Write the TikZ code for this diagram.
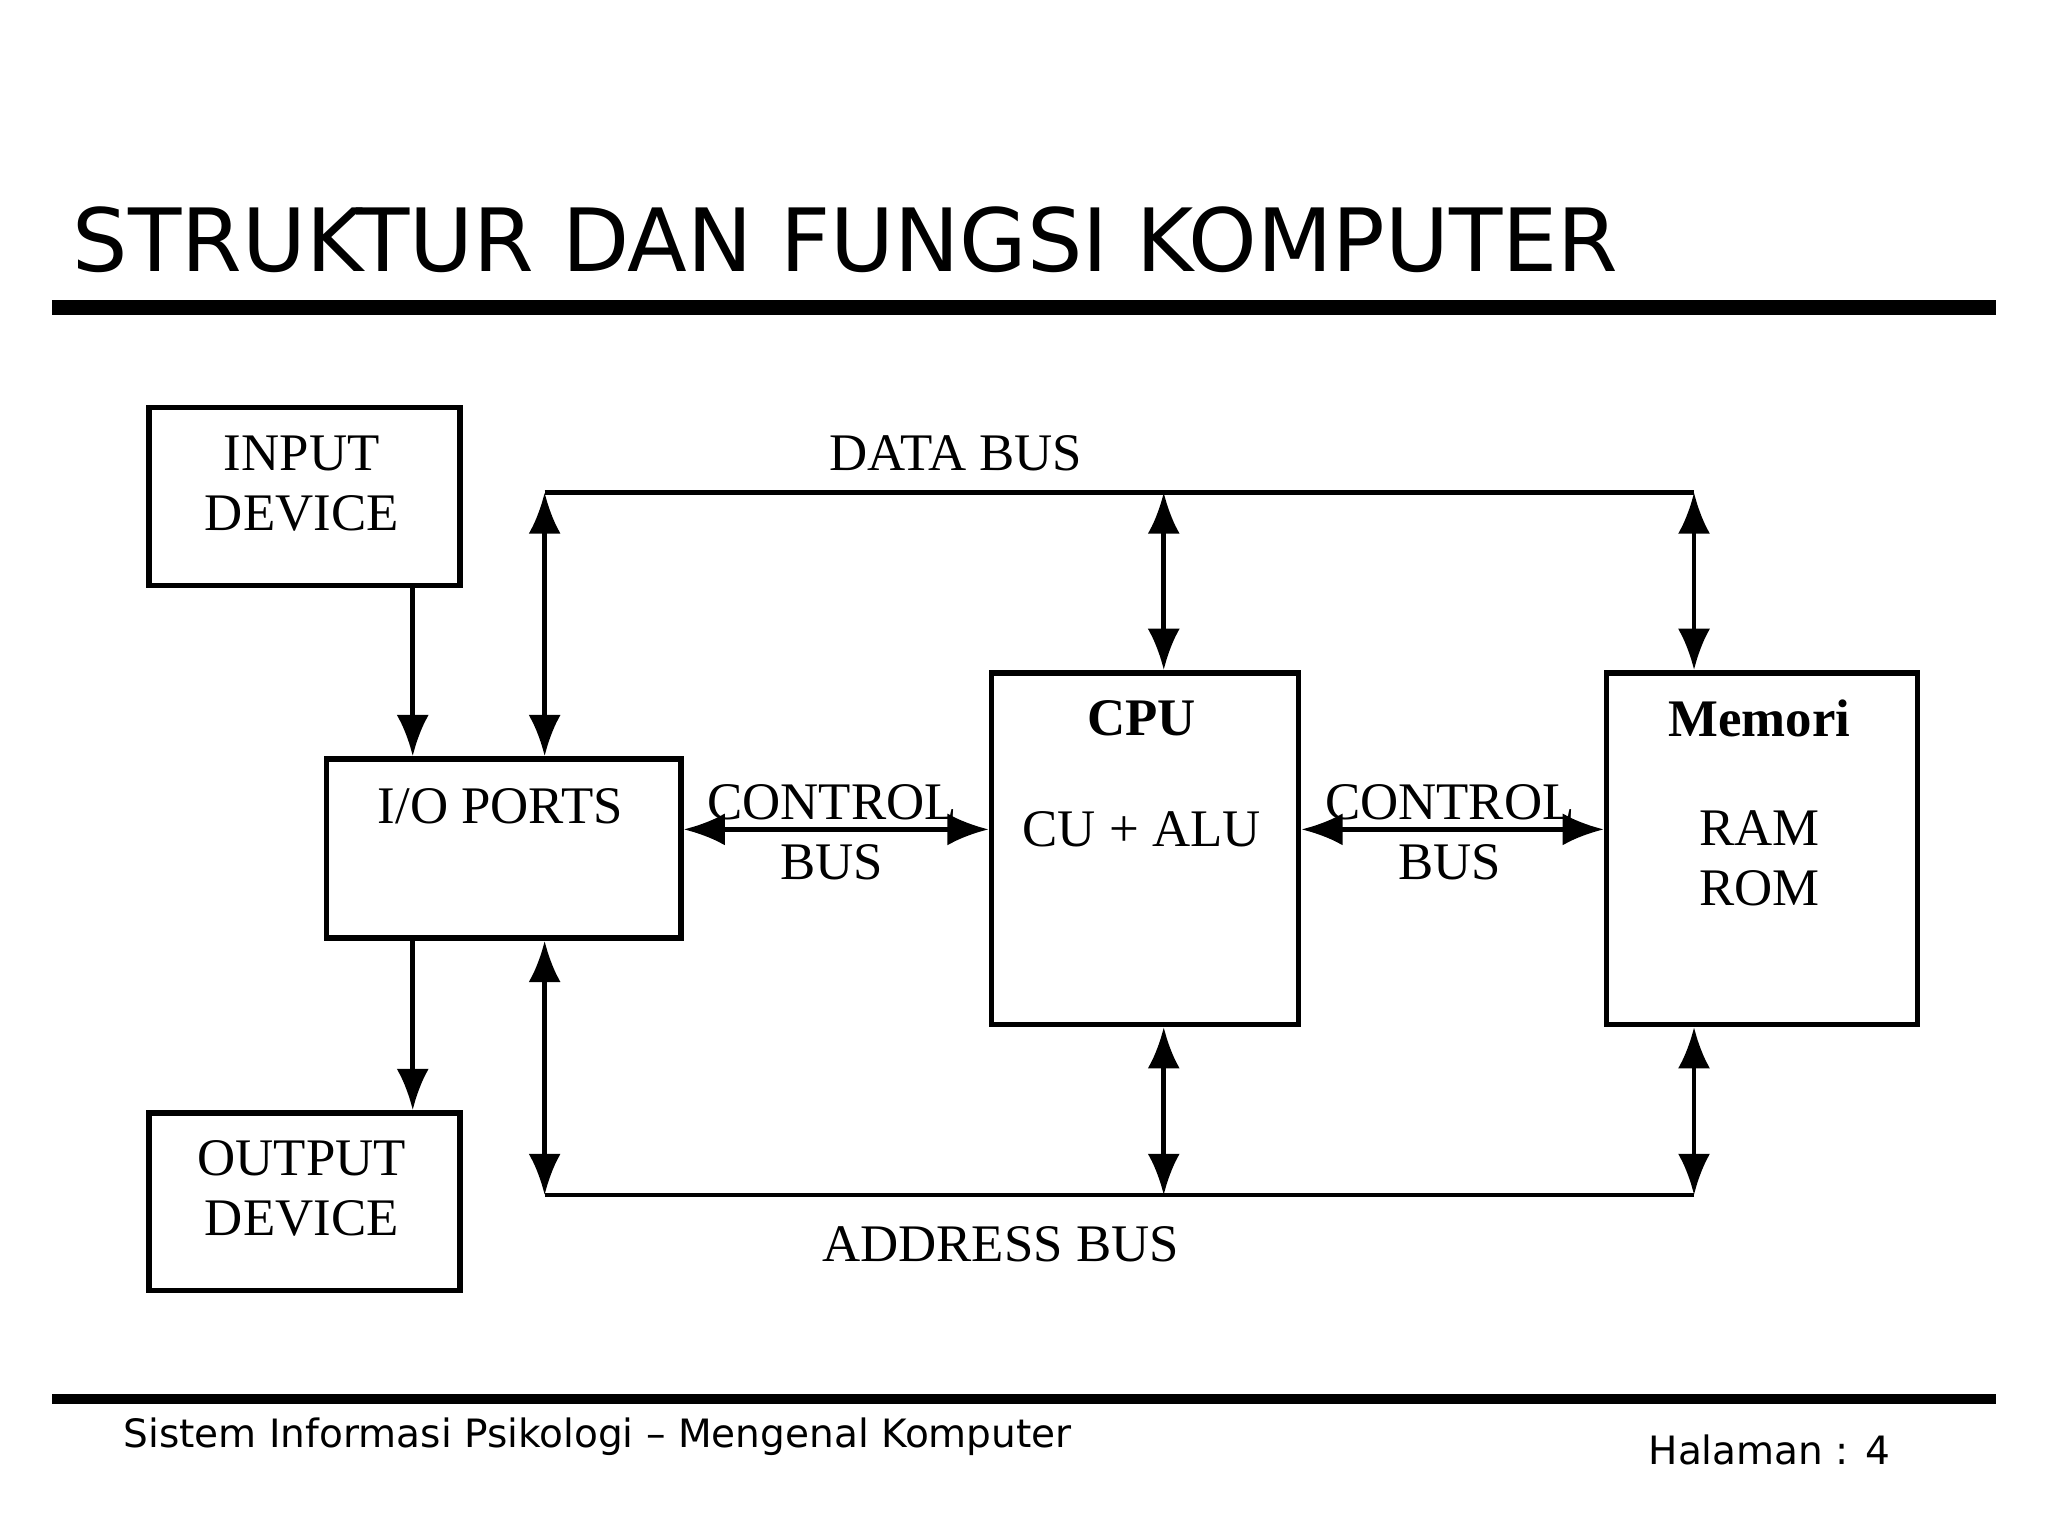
\documentclass[tikz,border=0pt]{standalone}
\usepackage{fontspec}
\setmainfont{Liberation Serif}
\newfontfamily\sanss{DejaVu Sans}
\usetikzlibrary{arrows.meta}
\begin{document}
\begin{tikzpicture}[x=0.01cm,y=-0.01cm,
  box/.style={draw,line width=1.2pt,inner sep=0,anchor=north west},
  lab/.style={font=\fontsize{11.5}{13}\selectfont,align=center,inner sep=0},
  arr/.style={line width=1pt,-{Latex[length=9pt,width=7pt]}},
  darr/.style={line width=1pt,{Latex[length=9pt,width=7pt]}-{Latex[length=9pt,width=7pt]}},
  bus/.style={line width=1pt}]
\useasboundingbox (0,0) rectangle (1568,1176);
\node[anchor=base west,inner sep=0,font=\sanss\fontsize{19}{22}\selectfont] (title) at (55,208) {STRUKTUR DAN FUNGSI KOMPUTER};
\draw[line width=2.6pt] (40,234) -- (1528,234);
\draw[line width=0.8pt] (40,240) -- (1528,240);
\draw[line width=2.2pt] (40,1071) -- (1528,1071);
\node[anchor=base west,inner sep=0,font=\sanss\fontsize{8.5}{10}\selectfont] (foot) at (94,1108) {Sistem Informasi Psikologi – Mengenal Komputer};
\node[anchor=base east,inner sep=0,font=\sanss\fontsize{8.5}{10}\selectfont] (page) at (1448,1121) {Halaman : 4};

\node[box,minimum width=2.38cm,minimum height=1.36cm] (in) at (112,310) {};
\node[lab] at (231,370) {INPUT\\DEVICE};
\node[box,minimum width=2.71cm,minimum height=1.37cm] (io) at (248,579) {};
\node[lab] at (383,617) {I/O PORTS};
\node[box,minimum width=2.38cm,minimum height=1.36cm] (out) at (112,850) {};
\node[lab] at (231,910) {OUTPUT\\DEVICE};
\node[box,minimum width=2.35cm,minimum height=2.69cm] (cpu) at (757,513) {};
\node[lab,font=\fontsize{11.5}{13}\selectfont\bfseries] at (874,550) {CPU};
\node[lab] at (874,635) {CU + ALU};
\node[box,minimum width=2.38cm,minimum height=2.69cm] (mem) at (1228,513) {};
\node[lab,font=\fontsize{11.5}{13}\selectfont\bfseries] at (1347,550) {Memori};
\node[lab] at (1347,657) {RAM\\ROM};

\coordinate (d1) at (417,377); \coordinate (d2) at (891,377); \coordinate (d3) at (1297,377);
\coordinate (a1) at (417,915); \coordinate (a2) at (891,915); \coordinate (a3) at (1297,915);
\draw[bus] (d1) -- (d3);
\draw[bus] (a1) -- (a3);
\node[lab] (dl) at (732,347) {DATA BUS};
\node[lab] (al) at (766,953) {ADDRESS BUS};
\draw[darr] (d1) -- (io.north -| d1);
\draw[darr] (d2) -- (cpu.north -| d2);
\draw[darr] (d3) -- (mem.north -| d3);
\draw[darr] (io.south -| a1) -- (a1);
\draw[darr] (cpu.south -| a2) -- (a2);
\draw[darr] (mem.south -| a3) -- (a3);
\draw[arr] (in.south -| 316,0) -- (io.north -| 316,0);
\draw[arr] (io.south -| 316,0) -- (out.north -| 316,0);
\draw[darr] (io.east |- 0,635) -- (cpu.west |- 0,635);
\draw[darr] (cpu.east |- 0,635) -- (mem.west |- 0,635);
\node[lab] (c1) at (637,637) {CONTROL\\BUS};
\node[lab] (c2) at (1110,637) {CONTROL\\BUS};
\end{tikzpicture}
\end{document}
